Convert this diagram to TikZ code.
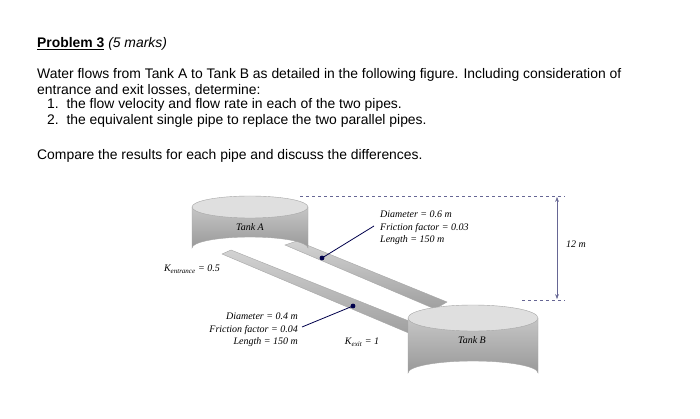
\documentclass[tikz,border=0pt]{standalone}
\usepackage{fontspec}
\setmainfont{Liberation Sans}
\newfontfamily\tms{Liberation Serif}
\usetikzlibrary{arrows.meta}
\begin{document}
\begin{tikzpicture}[x=1pt,y=-1pt,
  txt/.style={anchor=west,inner sep=0pt,font=\fontsize{13.9}{15}\selectfont},
  lab/.style={inner sep=0pt,font=\tms\itshape\fontsize{10}{12.5}\selectfont,align=left},
  dim/.style={dashed,thick,color=black!70!blue!60}]
\useasboundingbox (0,0) rectangle (700,419);
\fill[white] (0,0) rectangle (700,419);
\node[txt] (t0) at (37,44) {\textbf{\underline{Problem 3}} \textit{(5 marks)}};
\node[txt] (t1) at (37,75) {Water flows from Tank A to Tank B as detailed in the following figure. Including consideration of};
\node[txt] (t2) at (37,90) {entrance and exit losses, determine:};
\node[txt] (t3) at (47,105) {1.\ \ the flow velocity and flow rate in each of the two pipes.};
\node[txt] (t4) at (47,121) {2.\ \ the equivalent single pipe to replace the two parallel pipes.};
\node[txt] (t5) at (37,156) {Compare the results for each pipe and discuss the differences.};
% pipes
\shade[top color=gray!35,bottom color=gray!75,draw=gray!70] (285,245) -- (297,241) -- (447,302) -- (435,309) -- cycle;
\shade[top color=gray!35,bottom color=gray!75,draw=gray!70] (222,254) -- (231,250) -- (419,325) -- (411,334) -- cycle;
% tank A
\shade[top color=gray!45,bottom color=gray!80,draw=gray!70] (192,207) -- (192,248) arc[start angle=180,end angle=360,x radius=58,y radius=11] -- (308,207) -- cycle;
\filldraw[fill=gray!25,draw=gray!70] (250,207) ellipse[x radius=58,y radius=11];
\node[lab] (ta) at (250,227) {Tank A};
% tank B
\shade[top color=gray!45,bottom color=gray!80,draw=gray!70] (408,318) -- (408,373) arc[start angle=180,end angle=360,x radius=65,y radius=12] -- (538,318) -- cycle;
\filldraw[fill=gray!25,draw=gray!70] (473,318) ellipse[x radius=65,y radius=13];
\node[lab] (tb) at (472,340) {Tank B};
% dimension
\coordinate (d1) at (300,196); \coordinate (d2) at (565,196);
\coordinate (d3) at (522,300); \coordinate (d4) at (565,300);
\draw[dim] (d1) -- (d2); \draw[dim] (d3) -- (d4);
\coordinate (a1) at (557,197); \coordinate (a2) at (557,299);
\draw[{Stealth}-{Stealth},black!70!blue!60] (a1) -- (a2);
\node[lab] (h) at (576,244) {12 m};
% callouts
\fill[black!70!blue] (322,258) circle (2.4) coordinate (p1);
\fill[black!70!blue] (353,306) circle (2.4) coordinate (p2);
\node[lab,anchor=west] (L1) at (380,228) {Diameter = 0.6 m\\Friction factor = 0.03\\Length = 150 m};
\node[lab,anchor=east,align=right] (L2) at (298,330) {Diameter = 0.4 m\\Friction factor = 0.04\\Length = 150 m};
\coordinate (c1) at (374,226); \coordinate (c2) at (302,327);
\draw[black!70!blue,thick] (p1) -- (c1);
\draw[black!70!blue,thick] (p2) -- (c2);
\node[lab] (ke) at (192,269) {K\textsubscript{entrance} = 0.5};
\node[lab] (kx) at (362,342) {K\textsubscript{exit} = 1};
\end{tikzpicture}
\end{document}
